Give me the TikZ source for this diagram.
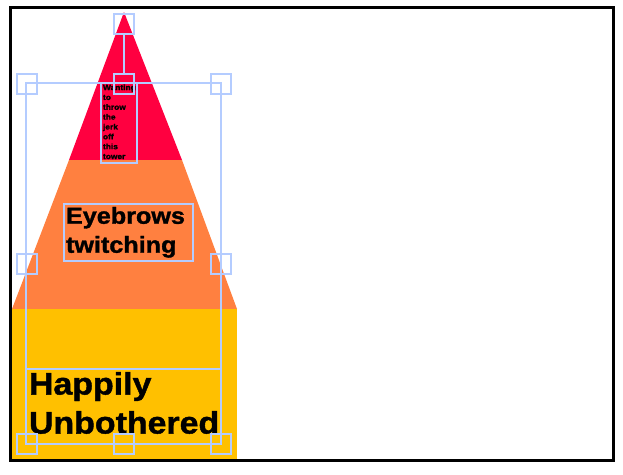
\documentclass[tikz,border=0pt]{standalone}
\usepackage{fontspec}
\setmainfont{Liberation Sans}[BoldFeatures={FakeBold=1.4,FakeStretch=1.09}]
\definecolor{sred}{HTML}{FF0040}
\definecolor{sorange}{HTML}{FF8040}
\definecolor{syellow}{HTML}{FFC000}
\definecolor{sel}{HTML}{B4CCFF}
\tikzset{
  handle/.style={rectangle,draw=sel,line width=2pt,minimum width=20pt,minimum height=20pt,inner sep=0pt,outer sep=0pt},
  selbox/.style={draw=sel,line width=1.4pt,inner sep=0pt,outer sep=0pt},
  label/.style={anchor=north west,inner sep=0pt,outer sep=0pt,align=left}
}
\begin{document}
\begin{tikzpicture}[x=1pt,y=-1pt]
\useasboundingbox (0,0) rectangle (623,474);
% tiers
\fill[sred] (124,12) -- (182,160) -- (69,160) -- cycle;
\fill[sorange] (69,160) -- (182,160) -- (237,309) -- (12,309) -- cycle;
\fill[syellow] (12,309) rectangle (237,459);
% labels
\node[label,font={\bfseries\fontsize{7.7}{9.85}\selectfont}] (ta) at (103,84.5) {Wanting\\to\\throw\\the\\jerk\\off\\this\\tower};
\node[label,font={\bfseries\fontsize{23.1}{29}\selectfont}] (tb) at (66,207) {Eyebrows\\twitching};
\node[label,font={\bfseries\fontsize{31.1}{39}\selectfont}] (tc) at (29,372) {Happily\\Unbothered};
% selection frame
\node[selbox,minimum width=195pt,minimum height=361pt] (frame) at (123.5,263.5) {};
\node[handle] (hrot) at (124,24) {};
\node[handle] (htl) at (27,84) {};
\node[handle] (htm) at (124,84) {};
\node[handle] (htr) at (221,84) {};
\node[handle] (hml) at (27,264) {};
\node[handle] (hmr) at (221,264) {};
\node[handle] (hbl) at (27,444) {};
\node[handle] (hbm) at (124,444) {};
\node[handle] (hbr) at (221,444) {};
\draw[sel,line width=2pt] (hrot) -- (htm);
% text boxes
\node[selbox,minimum width=36pt,minimum height=80pt] (boxa) at (119,123) {};
\node[selbox,minimum width=129pt,minimum height=57pt] (boxb) at (128.5,232.5) {};
\node[selbox,minimum width=195pt,minimum height=75pt] (boxc) at (123.5,406.5) {};
% outer border
\node[draw=black,line width=3pt,minimum width=603pt,minimum height=453pt,inner sep=0pt] (border) at (312,234) {};
\end{tikzpicture}
\end{document}
